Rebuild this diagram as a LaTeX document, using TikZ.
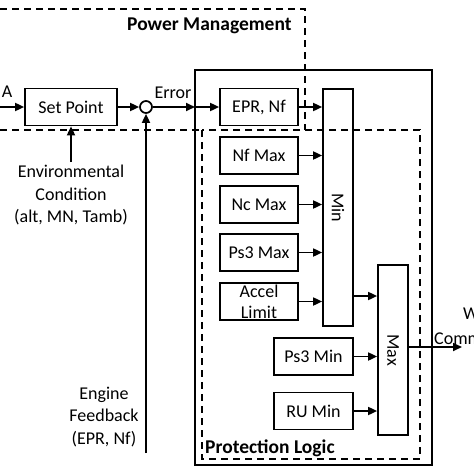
\documentclass[tikz,border=0pt]{standalone}
\usepackage{fontspec}
\setmainfont{Carlito}
\usetikzlibrary{arrows.meta}
\tikzset{
  lw/.style={line width=1.7pt},
  blk/.style={draw, lw, minimum width=78pt, minimum height=37pt, inner sep=0pt, font=\fontsize{18}{20}\selectfont},
  bar/.style={draw, lw, minimum width=30pt, inner sep=0pt, font=\fontsize{18}{20}\selectfont},
  arr/.style={lw, -{Triangle[length=9pt,width=8pt]}},
  dsh/.style={line width=1.5pt, dash pattern=on 7pt off 5pt},
  lbl/.style={font=\fontsize{18}{22.5}\selectfont, align=center, inner sep=0pt},
  bold/.style={font=\bfseries\fontsize{19.5}{20}\selectfont, inner sep=0pt}
}
\begin{document}
\begin{tikzpicture}[x=1pt,y=-1pt]
\useasboundingbox (0,0) rectangle (474,474);
\clip (0,0) rectangle (474,474);
% dashed regions
\draw[dsh] (0,9) -- (305,9) -- (305,130);
\draw[dsh] (0,130) -- (202,130);
\draw[dsh] (202,130) rectangle (420,459);
\node[bold, anchor=west] (pm) at (127,26) {Power Management};
\node[bold, anchor=west] (pl) at (205,448) {Protection Logic};
% outer solid box
\draw[lw] (195,70) rectangle (432,465);
% blocks
\node[blk, minimum width=92pt] (sp) at (71,107) {Set Point};
\node[draw, lw, circle, minimum size=12pt, inner sep=0pt] (sum) at (146,107) {};
\node[blk] (epr) at (259,107) {EPR, Nf};
\node[blk] (nfmax) at (259,155.5) {Nf Max};
\node[blk] (ncmax) at (259,204.5) {Nc Max};
\node[blk] (psmax) at (259,252.5) {Ps3 Max};
\node[blk, font=\fontsize{18}{21}\selectfont, align=center] (accel) at (259,301.5) {Accel\\Limit};
\node[blk, minimum width=79pt] (psmin) at (313.5,356.5) {Ps3 Min};
\node[blk, minimum width=79pt] (rumin) at (313.5,411) {RU Min};
\node[bar, minimum height=237pt] (minbar) at (338,207.5) {};
\node[rotate=-90, font=\fontsize{18}{20}\selectfont] (mintxt) at (minbar.center) {Min};
\node[bar, minimum height=170pt] (maxbar) at (393,350) {};
\node[rotate=-90, font=\fontsize{18}{20}\selectfont] (maxtxt) at (maxbar.center) {Max};
% labels
\node[lbl] (a) at (7,92) {A};
\node[lbl] (err) at (173,93) {Error};
\node[lbl, anchor=north] (env) at (71,165) {Environmental\\Condition\\(alt, MN, Tamb)};
\node[lbl] (eng) at (104,417) {Engine\\Feedback\\(EPR, Nf)};
\node[lbl, anchor=west] (wf) at (463,313) {Wf};
\node[lbl, anchor=west] (cmd) at (434,338) {Command};
% connectors
\coordinate (in) at (0,107);
\coordinate (entry) at (195,107);
\coordinate (envtop) at (71,162);
\coordinate (fb) at (146,453);
\coordinate (out) at (462,347);
\draw[arr] (in) -- (sp.west);
\draw[arr] (sp.east) -- (sum.west);
\draw[arr] (sum.east) -- (entry);
\draw[arr] (entry) -- (epr.west);
\draw[arr] (envtop) -- (sp.south);
\draw[arr] (fb) -- (sum.south);
\draw[arr] (epr.east) -- (epr.east -| minbar.west);
\draw[arr] (nfmax.east) -- (nfmax.east -| minbar.west);
\draw[arr] (ncmax.east) -- (ncmax.east -| minbar.west);
\draw[arr] (psmax.east) -- (psmax.east -| minbar.west);
\draw[arr] (accel.east) -- (accel.east -| minbar.west);
\coordinate (mm) at (353,296);
\draw[arr] (mm) -- (mm -| maxbar.west);
\draw[arr] (psmin.east) -- (psmin.east -| maxbar.west);
\draw[arr] (rumin.east) -- (rumin.east -| maxbar.west);
\draw[arr] (maxbar.east |- out) -- (out);
\end{tikzpicture}
\end{document}
